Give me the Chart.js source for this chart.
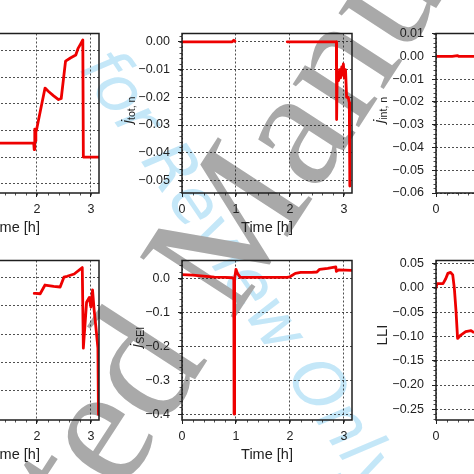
<!DOCTYPE html>
<html><head><meta charset="utf-8">
<script src="https://cdn.jsdelivr.net/npm/chart.js@4"></script>
<style>
html,body{margin:0;padding:0;background:#fff;width:474px;height:474px;overflow:hidden;position:relative;font-family:"Liberation Sans",Arial,sans-serif;}
canvas{position:absolute;}
.wm{position:absolute;white-space:nowrap;line-height:1;transform-origin:50% 50%;}
#wmBlue{left:242px;top:272px;font-family:"DejaVu Sans",sans-serif;font-style:italic;font-size:66px;color:#c4e7f8;transform:translate(-50%,-50%) rotate(56deg);}
#wmGray{left:208px;top:253px;font-family:"Liberation Serif",serif;font-size:172px;color:#a9a9a9;transform:translate(-50%,-50%) rotate(-57deg);}
.yt{position:absolute;transform:translate(-50%,-50%) rotate(-90deg);font-size:15px;color:#222;white-space:nowrap;line-height:1;}
.yt sub{font-size:10.5px;vertical-align:-3px;}
</style></head><body>
<div class="wm" id="wmBlue">for Review Only</div>
<div class="wm" id="wmGray">Accepted Manuscript</div>
<canvas id="cTL" width="236" height="219" style="left:-131px;top:18px"></canvas>
<canvas id="cTM" width="236" height="219" style="left:122px;top:18px"></canvas>
<canvas id="cTR" width="236" height="219" style="left:376px;top:18px"></canvas>
<canvas id="cBL" width="236" height="219" style="left:-131px;top:245px"></canvas>
<canvas id="cBM" width="236" height="219" style="left:122px;top:245px"></canvas>
<canvas id="cBR" width="236" height="219" style="left:376px;top:245px"></canvas>
<div class="yt" style="left:128px;top:110px"><i>j</i><sub>tot, n</sub></div>
<div class="yt" style="left:380px;top:110px"><i>j</i><sub>int, n</sub></div>
<div class="yt" style="left:137px;top:337px"><i>j</i><sub>SEI</sub></div>
<div class="yt" style="left:381px;top:335px">LLI</div>
<script>
// ---- data ----
const xTicks = [0, 1, 2, 3];
const xMax = 3.15;

// top-left panel (its y labels are outside the picture; values read against its gridlines)
const tlTime = [0, 1.94, 1.95, 1.96, 1.97, 1.98, 1.99, 2.02, 2.08, 2.15, 2.21, 2.31, 2.40, 2.45, 2.53, 2.62, 2.72, 2.76, 2.81, 2.85, 2.86, 3.15];
const tlVal  = [1.52, 1.52, 1.28, 2.05, 1.6, 1.95, 2.0, 2.3, 2.9, 3.59, 3.47, 3.3, 3.16, 3.2, 4.6, 4.72, 4.83, 5.07, 5.25, 5.4, 1.0, 1.0];
const tlTicks = [0, 1, 2, 3, 4, 5];

// top-middle panel: j_tot,n
const tmTime = [0, 0.93, 0.96, 0.98, 1.0, 1.95, 2.86, 2.865, 2.875, 2.9, 2.92, 2.94, 2.96, 2.97, 2.99, 3.01, 3.03, 3.05, 3.08, 3.1, 3.11];
const tmVal  = [0, 0, 0.0006, 0.0002, null, 0, 0, -0.028, -0.012, -0.014, -0.010, -0.013, -0.009, -0.012, -0.008, -0.013, -0.010, -0.020, -0.020, -0.022, -0.052];
const tmTicks = [0, -0.01, -0.02, -0.03, -0.04, -0.05];

// top-right panel: j_int,n
const trTime = [0, 0.3, 0.4, 0.42, 0.5, 0.75];
const trVal  = [0, 0, 0.0003, 0, 0, 0];
const trTicks = [0.01, 0, -0.01, -0.02, -0.03, -0.04, -0.05, -0.06];

// bottom-left panel (y labels outside the picture)
const blTime = [1.95, 1.98, 2.06, 2.15, 2.31, 2.43, 2.5, 2.56, 2.69, 2.84, 2.86, 2.92, 2.97, 3.0, 3.03, 3.06, 3.09, 3.13, 3.14];
const blVal  = [-0.056, -0.056, -0.057, -0.026, -0.031, -0.033, 0.002, 0.005, 0.013, 0.036, -0.25, -0.087, -0.07, -0.104, -0.043, -0.115, -0.171, -0.25, -0.485];
const blTicks = [0, -0.1, -0.2, -0.3, -0.4];

// bottom-middle panel: j_SEI
const bmTime = [0, 0.2, 0.4, 0.6, 0.8, 0.93, 0.96, 0.965, 0.97, 0.98, 1.0, 1.03, 1.08, 1.5, 1.95, 2.0, 2.1, 2.2, 2.4, 2.5, 2.55, 2.7, 2.85, 2.86, 2.9, 3.15];
const bmVal  = [0.012, 0.011, 0.008, 0.005, 0.004, 0.003, 0, -0.40, -0.40, 0.0, 0.028, 0.015, 0.004, 0.004, 0.004, 0.006, 0.016, 0.019, 0.019, 0.02, 0.028, 0.031, 0.035, 0.022, 0.026, 0.025];
const bmTicks = [0, -0.1, -0.2, -0.3, -0.4];

// bottom-right panel: LLI
const brTime = [0, 0.02, 0.13, 0.18, 0.22, 0.27, 0.31, 0.34, 0.37, 0.40, 0.46, 0.55, 0.65, 0.69];
const brVal  = [0.0, 0.009, 0.009, 0.019, 0.030, 0.032, 0.027, -0.001, -0.046, -0.104, -0.097, -0.090, -0.088, -0.091];
const brTicks = [0.05, 0, -0.05, -0.1, -0.15, -0.2, -0.25];

// ---- drawing ----
const FAM = '"Liberation Sans", Arial, sans-serif';
const INK = '#222';
const minus = s => s.replace('-', '\u2212');

const framePlugin = {
  id: 'frame',
  afterDatasetsDraw(chart, args, opts) {
    const {ctx, chartArea: a, scales: {x, y}} = chart;
    ctx.save();
    ctx.strokeStyle = INK;
    ctx.lineWidth = 0.8;
    ctx.beginPath();
    const xs = opts.xMinor, ys = opts.yMinor;
    for (let k = Math.ceil(x.min / xs - 1e-9); k <= Math.floor(x.max / xs + 1e-9); k++) {
      const px = Math.round(x.getPixelForValue(k * xs)) + 0.5;
      ctx.moveTo(px, a.bottom); ctx.lineTo(px, a.bottom + 2.5);
    }
    for (let k = Math.ceil(y.min / ys - 1e-9); k <= Math.floor(y.max / ys + 1e-9); k++) {
      const py = Math.round(y.getPixelForValue(k * ys)) + 0.5;
      ctx.moveTo(a.left, py); ctx.lineTo(a.left - 2.5, py);
    }
    ctx.stroke();
    ctx.lineWidth = 1.5;
    ctx.strokeStyle = '#1e1e1e';
    ctx.strokeRect(a.left, a.top, a.right - a.left, a.bottom - a.top);
    ctx.restore();
  }
};

function panel(id, times, vals, yTicks, yMin, yMax, dec, yMinor) {
  const pts = times.map((t, i) => ({x: t, y: vals[i]}));
  new Chart(document.getElementById(id), {
    type: 'line',
    data: {datasets: [{data: pts, borderColor: '#ee0000', borderWidth: 2.8, pointRadius: 0, tension: 0, spanGaps: false, fill: false, borderJoinStyle: 'round', borderCapStyle: 'round'}]},
    options: {
      responsive: false, animation: false, events: [],
      layout: {padding: {top: 6, right: 6, left: 0, bottom: 0}},
      plugins: {legend: {display: false}, tooltip: {enabled: false}, frame: {xMinor: 0.2, yMinor: yMinor}},
      scales: {
        x: {
          type: 'linear', min: 0, max: xMax,
          afterBuildTicks: s => { s.ticks = xTicks.map(v => ({value: v})); },
          afterFit: s => { s.height = 44; },
          ticks: {font: {size: 12.5, family: FAM}, color: INK, padding: 5, maxRotation: 0, autoSkip: false, callback: v => String(v)},
          grid: {color: INK, lineWidth: 0.8, drawTicks: true, tickLength: 4, tickColor: INK, tickWidth: 1, tickBorderDash: []},
          border: {display: false, dash: [2, 2]},
          title: {display: true, text: 'Time [h]', font: {size: 14.5, family: FAM}, color: INK, padding: {top: 0, bottom: 0}}
        },
        y: {
          type: 'linear', min: yMin, max: yMax,
          afterBuildTicks: s => { s.ticks = yTicks.map(v => ({value: v})); },
          afterFit: s => { s.width = 60; },
          ticks: {font: {size: 12.5, family: FAM}, color: INK, padding: 8, autoSkip: false, callback: v => minus(Number(v).toFixed(dec))},
          grid: {color: INK, lineWidth: 0.8, drawTicks: true, tickLength: 4, tickColor: INK, tickWidth: 1, tickBorderDash: []},
          border: {display: false, dash: [2, 2]}
        }
      }
    },
    plugins: [framePlugin]
  });
}

panel('cTL', tlTime, tlVal, tlTicks, -0.35, 5.64, 0, 0.2);
panel('cTM', tmTime, tmVal, tmTicks, -0.0545, 0.003, 2, 0.002);
panel('cTR', trTime, trVal, trTicks, -0.06, 0.01, 2, 0.002);
panel('cBL', blTime, blVal, blTicks, -0.505, 0.061, 1, 0.02);
panel('cBM', bmTime, bmVal, bmTicks, -0.4175, 0.054, 1, 0.02);
panel('cBR', brTime, brVal, brTicks, -0.272, 0.0565, 2, 0.01);
</script>
</body></html>
